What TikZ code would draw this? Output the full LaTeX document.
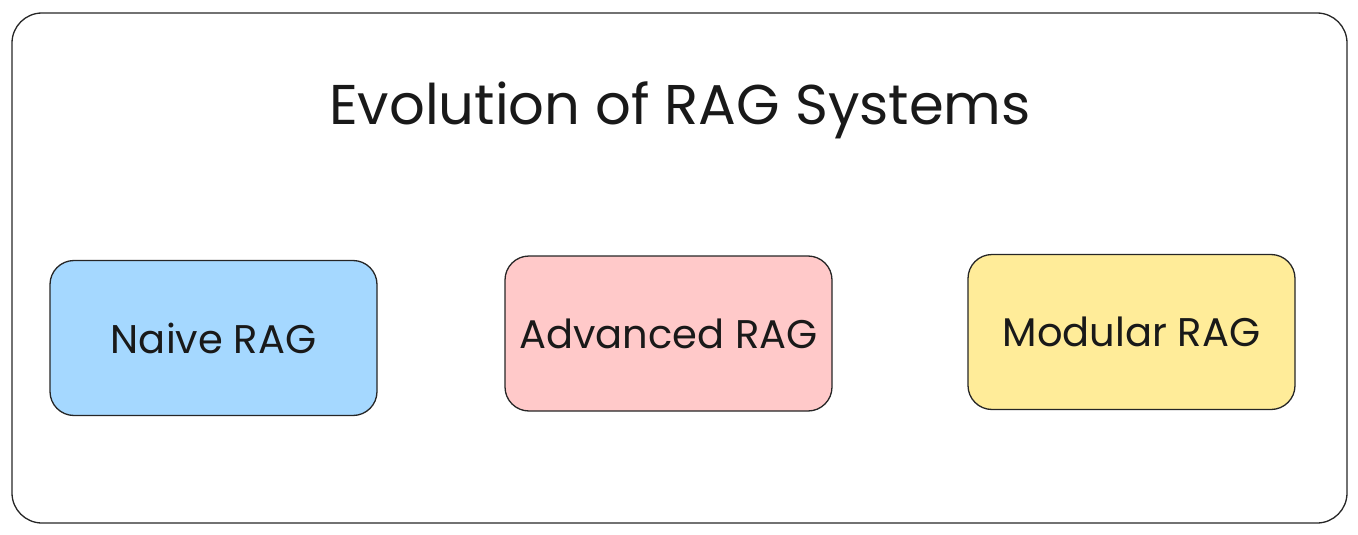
\documentclass[tikz,border=0pt]{standalone}
\usepackage{fontspec}
\setmainfont{Poppins}
\begin{document}
\begin{tikzpicture}[x=1pt,y=-1pt,
  card/.style={draw=black!85,line width=1.3pt,rounded corners=24pt,minimum width=327pt,minimum height=155pt,font=\fontsize{40}{44}\selectfont,text=black!90}]
\useasboundingbox (0,0) rectangle (1358,535);
\node[draw=black!85,line width=1.3pt,rounded corners=30pt,minimum width=1335pt,minimum height=510pt] (frame) at (679.5,268) {};
\node[font=\fontsize{56}{60}\selectfont,text=black!90] (title) at (680,110) {Evolution of RAG Systems};
\definecolor{cblue}{HTML}{A5D8FF}
\definecolor{cpink}{HTML}{FFC9C9}
\definecolor{cyel}{HTML}{FFEC99}
\node[card,fill=cblue] (naive) at (213.5,338) {Naive RAG};
\node[card,fill=cpink] (adv) at (668.5,333.5) {Advanced RAG};
\node[card,fill=cyel] (mod) at (1131.5,332) {Modular RAG};
\end{tikzpicture}
\end{document}
